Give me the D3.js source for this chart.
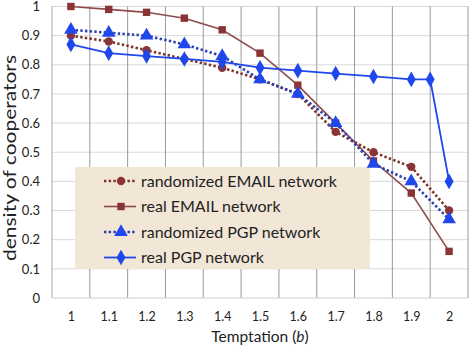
<!DOCTYPE html>
<html><head><meta charset="utf-8">
<script src="https://cdn.jsdelivr.net/npm/d3@7"></script>
<style>body{margin:0;background:#fff}svg{display:block}</style>
</head><body>
<svg id="c" width="474" height="348"></svg>
<script>
const temptation = [1, 1.1, 1.2, 1.3, 1.4, 1.5, 1.6, 1.7, 1.8, 1.9, 2];
const xTickLabels = ["1","1.1","1.2","1.3","1.4","1.5","1.6","1.7","1.8","1.9","2"];
const yTicks = [0,0.1,0.2,0.3,0.4,0.5,0.6,0.7,0.8,0.9,1];
const randomizedEmail = [0.90, 0.88, 0.85, 0.82, 0.79, 0.75, 0.70, 0.57, 0.50, 0.45, 0.30];
const realEmail = [1.00, 0.99, 0.98, 0.96, 0.92, 0.84, 0.73, 0.60, 0.47, 0.36, 0.16];
const randomizedPgp = [0.92, 0.91, 0.90, 0.87, 0.83, 0.75, 0.70, 0.60, 0.46, 0.40, 0.27];
const realPgpX = [1, 1.1, 1.2, 1.3, 1.4, 1.5, 1.6, 1.7, 1.8, 1.9, 1.95, 2];
const realPgp = [0.87, 0.84, 0.83, 0.82, 0.81, 0.79, 0.78, 0.77, 0.76, 0.75, 0.75, 0.40];
const seriesNames = ["randomized EMAIL network","real EMAIL network","randomized PGP network","real PGP network"];

const svg = d3.select("#c");
const x = d3.scaleLinear().domain([0.95, 2.05]).range([52, 468]);
const y = d3.scaleLinear().domain([0, 1]).range([298, 6.5]);
const font = "Lato, 'Open Sans', sans-serif";

// horizontal gridlines
svg.append("g").selectAll("line").data(yTicks.slice(1)).join("line")
  .attr("x1", x(0.95)).attr("x2", x(2.05))
  .attr("y1", d => y(d)).attr("y2", d => y(d))
  .attr("stroke", "#d9d9d9").attr("stroke-width", 1);
// vertical gridlines between categories
const vGrid = temptation.map(t => t + 0.05);
svg.append("g").selectAll("line").data(vGrid).join("line")
  .attr("x1", d => x(d)).attr("x2", d => x(d))
  .attr("y1", y(1)).attr("y2", y(0))
  .attr("stroke", "#9a9a9a").attr("stroke-width", 1);
// axes lines
svg.append("line").attr("x1", x(0.95)).attr("x2", x(0.95)).attr("y1", y(1)).attr("y2", y(0))
  .attr("stroke", "#a8a8a8");
svg.append("line").attr("x1", x(0.95)).attr("x2", x(2.05)).attr("y1", y(0)).attr("y2", y(0))
  .attr("stroke", "#cfcfcf");

// y axis labels
const yAxis = d3.axisLeft(y).tickValues(yTicks).tickSize(0).tickPadding(12)
  .tickFormat(d => d3.format("~g")(d));
const gy = svg.append("g").attr("transform", `translate(${x(0.95)},0)`).call(yAxis);
gy.select(".domain").remove();
gy.selectAll("text").attr("font-family", font).attr("font-size", 13).attr("fill", "#222");

// x axis labels
const xAxis = d3.axisBottom(x).tickValues(temptation).tickSize(0).tickPadding(14)
  .tickFormat((d, i) => xTickLabels[i]);
const gx = svg.append("g").attr("transform", `translate(0,${y(0)})`).call(xAxis);
gx.select(".domain").remove();
gx.selectAll("text").attr("font-family", font).attr("font-size", 12.5).attr("fill", "#222");

// axis titles
svg.append("text").attr("transform", `translate(16,158) rotate(-90)`)
  .attr("text-anchor", "middle").attr("font-family", font).attr("font-size", 17.5).attr("fill", "#222")
  .attr("textLength", 206).attr("lengthAdjust", "spacingAndGlyphs")
  .text("density of cooperators");
const xt = svg.append("text").attr("x", 260).attr("y", 342).attr("text-anchor", "middle")
  .attr("font-family", font).attr("font-size", 15.5).attr("fill", "#222");
xt.append("tspan").text("Temptation (");
xt.append("tspan").attr("font-style", "italic").text("b");
xt.append("tspan").text(")");

// legend background
svg.append("rect").attr("x", 75).attr("y", 167).attr("width", 295).attr("height", 102)
  .attr("fill", "#f2e7d7");

const brown = "#8a3436", brownLine = "#8e4c4c", blue = "#1f47ee", blueDot = "#2a3fb0";
const styles = [
  {color: brown, line: "#7a3328", dash: "2.4,2.3", width: 2.6, shape: d3.symbolCircle, size: 55},
  {color: brown, line: brownLine, dash: null, width: 1.6, shape: d3.symbolSquare, size: 55},
  {color: blue, line: blueDot, dash: "2.4,2.3", width: 2.6, shape: d3.symbolTriangle, size: 80},
  {color: blue, line: blue, dash: null, width: 1.8, shape: d3.symbolDiamond, size: 70}
];
const allSeries = [
  {xs: temptation, ys: randomizedEmail},
  {xs: temptation, ys: realEmail},
  {xs: temptation, ys: randomizedPgp},
  {xs: realPgpX, ys: realPgp}
];
const line = d3.line().x(d => x(d[0])).y(d => y(d[1]));
allSeries.forEach((s, i) => {
  const st = styles[i];
  const pts = s.xs.map((v, k) => [v, s.ys[k]]);
  svg.append("path").datum(pts).attr("d", line).attr("fill", "none")
    .attr("stroke", st.line).attr("stroke-width", st.width)
    .attr("stroke-dasharray", st.dash);
  svg.append("g").selectAll("path").data(pts).join("path")
    .attr("d", d3.symbol().type(st.shape).size(st.size))
    .attr("transform", d => `translate(${x(d[0])},${y(d[1])})`)
    .attr("fill", st.color);
});

// legend entries
seriesNames.forEach((name, i) => {
  const st = styles[i];
  const ly = 181 + i * 25.5;
  svg.append("line").attr("x1", 104).attr("x2", 136).attr("y1", ly).attr("y2", ly)
    .attr("stroke", st.line).attr("stroke-width", st.width)
    .attr("stroke-dasharray", st.dash);
  svg.append("path").attr("d", d3.symbol().type(st.shape).size(st.size)())
    .attr("transform", `translate(121,${ly})`).attr("fill", st.color);
  svg.append("text").attr("x", 141).attr("y", ly + 5.5).attr("font-family", font)
    .attr("font-size", 16).attr("fill", "#222").text(name);
});
</script>
</body></html>
